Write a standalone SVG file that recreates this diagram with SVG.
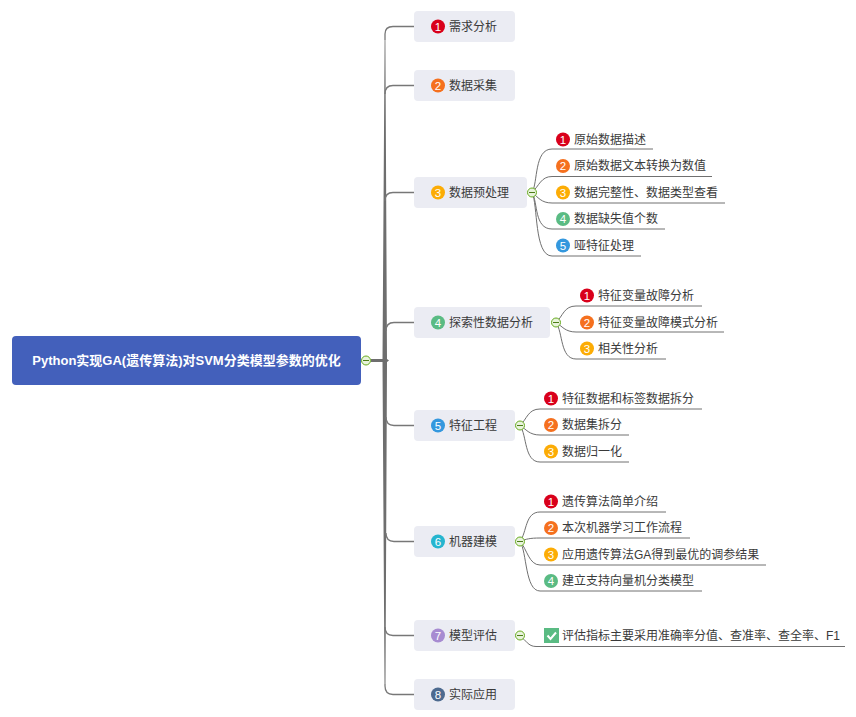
<svg xmlns="http://www.w3.org/2000/svg" width="856" height="717" viewBox="0 0 856 717">
<style>
text{font-family:"Liberation Sans","Noto Sans CJK SC",sans-serif;font-size:12px;fill:#3a3a3a}
.root{fill:#4360bb}
.rt{fill:#fff;font-size:13px;font-weight:700;text-anchor:middle}
.br{fill:#ebecf3}
.num{fill:#fff;font-size:11.500px;text-anchor:middle}
.c1{fill:#d9001b}.c2{fill:#f5701e}.c3{fill:#fcac05}.c4{fill:#5abb83}.c5{fill:#3498de}.c6{fill:#26b5cf}.c7{fill:#a78bd1}.c8{fill:#4d6a8f}
.taper{fill:#6e6e6e}
.trunk{fill:none;stroke:#777;stroke-width:1.300}
.ln{fill:none;stroke:#707070;stroke-width:1}
.tg{fill:#e8f3dc;stroke:#67ab1f;stroke-width:1}
.tm{stroke:#4d7d18;stroke-width:1}
</style>
<g id="connectors">
<path class="taper" d="M371 359H382.500L384.600 40H385.400L387 359L389 360.500L387 362L385.500 684H384.500L382.500 362H371Z"/>
<path class="trunk" d="M385 40V34Q385 26.500 393 26.500H414M385 94Q385 85.500 393 85.500H414M385 201Q385 192.500 393 192.500H414M386 331Q386 322.500 394 322.500H414M386 417Q386 425.500 394 425.500H414M386 533Q386 541.500 394 541.500H414M385 684V686Q385 694.500 393 694.500H414M385 627Q385 635.500 393 635.500H414"/>
<path class="ln" d="M532 192.500C538 183 534 149 552 149H653M532 192.500C539 186 541 176.500 552 176.500H712M532 192.500C538 197 541 203 552 203H725M532 192.500C538 202 534 229 552 229H665M532 192.500C538 204 534 256 552 256H641"/>
<path class="ln" d="M556 322.500C563 316 564 306 576 306H702M556 322.500C562 326 565 332 576 332H724M556 322.500C563 332 560 359 576 359H666"/>
<path class="ln" d="M520 425.500C527 419 528 409 540 409H702M520 425.500C526 429 529 435 540 435H629M520 425.500C527 435 524 462 540 462H629"/>
<path class="ln" d="M520 541.500C527 532 525 512 540 512H666M520 541.500C526 539 530 538 540 538H690M520 541.500C527 549 529 565 540 565H766M520 541.500C527 552 525 591 540 591H702"/>
<path class="ln" d="M520 636C526 640 528 646.500 536 646.500H845"/>
</g>
<g id="root"><rect class="root" x="12" y="336" width="349" height="49" rx="4"/><text class="rt" x="186.500" y="365">Python实现GA(遗传算法)对SVM分类模型参数的优化</text></g>
<g id="toggle-root"><circle class="tg" cx="366" cy="360.500" r="4.500"/><path class="tm" d="M363 360.500H369"/></g>

<g id="n1"><rect class="br" x="414" y="11" width="101" height="31" rx="4"/><circle class="c1" cx="438" cy="26.500" r="7"/><text class="num" x="438" y="30.500">1</text><text x="449" y="30.500">需求分析</text></g>
<g id="n2"><rect class="br" x="414" y="70" width="101" height="31" rx="4"/><circle class="c2" cx="438" cy="85.500" r="7"/><text class="num" x="438" y="89.500">2</text><text x="449" y="89.500">数据采集</text></g>
<g id="n3"><rect class="br" x="414" y="177" width="113" height="31" rx="4"/><circle class="c3" cx="438" cy="192.500" r="7"/><text class="num" x="438" y="196.500">3</text><text x="449" y="196.500">数据预处理</text></g>
<g id="n4"><rect class="br" x="414" y="307" width="136" height="31" rx="4"/><circle class="c4" cx="438" cy="322.500" r="7"/><text class="num" x="438" y="326.500">4</text><text x="449" y="326.500">探索性数据分析</text></g>
<g id="n5"><rect class="br" x="414" y="410" width="101" height="31" rx="4"/><circle class="c5" cx="438" cy="425.500" r="7"/><text class="num" x="438" y="429.500">5</text><text x="449" y="429.500">特征工程</text></g>
<g id="n6"><rect class="br" x="414" y="526" width="101" height="31" rx="4"/><circle class="c6" cx="438" cy="541.500" r="7"/><text class="num" x="438" y="545.500">6</text><text x="449" y="545.500">机器建模</text></g>
<g id="n7"><rect class="br" x="414" y="620" width="101" height="31" rx="4"/><circle class="c7" cx="438" cy="635.500" r="7"/><text class="num" x="438" y="639.500">7</text><text x="449" y="639.500">模型评估</text></g>
<g id="n8"><rect class="br" x="414" y="679" width="101" height="31" rx="4"/><circle class="c8" cx="438" cy="694.500" r="7"/><text class="num" x="438" y="698.500">8</text><text x="449" y="698.500">实际应用</text></g>

<g id="toggles">
<g><circle class="tg" cx="532" cy="192.500" r="4.500"/><path class="tm" d="M529 192.500H535"/></g>
<g><circle class="tg" cx="556" cy="322.500" r="4.500"/><path class="tm" d="M553 322.500H559"/></g>
<g><circle class="tg" cx="520" cy="425.500" r="4.500"/><path class="tm" d="M517 425.500H523"/></g>
<g><circle class="tg" cx="520" cy="541.500" r="4.500"/><path class="tm" d="M517 541.500H523"/></g>
<g><circle class="tg" cx="520" cy="635.500" r="4.500"/><path class="tm" d="M517 635.500H523"/></g>
</g>

<g id="n3-1"><circle class="c1" cx="563" cy="139.500" r="7"/><text class="num" x="563" y="143.500">1</text><text x="574" y="143.500">原始数据描述</text></g>
<g id="n3-2"><circle class="c2" cx="563" cy="166" r="7"/><text class="num" x="563" y="170">2</text><text x="574" y="170">原始数据文本转换为数值</text></g>
<g id="n3-3"><circle class="c3" cx="563" cy="192.500" r="7"/><text class="num" x="563" y="196.500">3</text><text x="574" y="196.500">数据完整性、数据类型查看</text></g>
<g id="n3-4"><circle class="c4" cx="563" cy="219" r="7"/><text class="num" x="563" y="223">4</text><text x="574" y="223">数据缺失值个数</text></g>
<g id="n3-5"><circle class="c5" cx="563" cy="245.500" r="7"/><text class="num" x="563" y="249.500">5</text><text x="574" y="249.500">哑特征处理</text></g>

<g id="n4-1"><circle class="c1" cx="587" cy="295.500" r="7"/><text class="num" x="587" y="299.500">1</text><text x="598" y="299.500">特征变量故障分析</text></g>
<g id="n4-2"><circle class="c2" cx="587" cy="322.500" r="7"/><text class="num" x="587" y="326.500">2</text><text x="598" y="326.500">特征变量故障模式分析</text></g>
<g id="n4-3"><circle class="c3" cx="587" cy="348.500" r="7"/><text class="num" x="587" y="352.500">3</text><text x="598" y="352.500">相关性分析</text></g>

<g id="n5-1"><circle class="c1" cx="551" cy="398.500" r="7"/><text class="num" x="551" y="402.500">1</text><text x="562" y="402.500">特征数据和标签数据拆分</text></g>
<g id="n5-2"><circle class="c2" cx="551" cy="425" r="7"/><text class="num" x="551" y="429">2</text><text x="562" y="429">数据集拆分</text></g>
<g id="n5-3"><circle class="c3" cx="551" cy="451.500" r="7"/><text class="num" x="551" y="455.500">3</text><text x="562" y="455.500">数据归一化</text></g>

<g id="n6-1"><circle class="c1" cx="551" cy="501.500" r="7"/><text class="num" x="551" y="505.500">1</text><text x="562" y="505.500">遗传算法简单介绍</text></g>
<g id="n6-2"><circle class="c2" cx="551" cy="528" r="7"/><text class="num" x="551" y="532">2</text><text x="562" y="532">本次机器学习工作流程</text></g>
<g id="n6-3"><circle class="c3" cx="551" cy="554.500" r="7"/><text class="num" x="551" y="558.500">3</text><text x="562" y="558.500">应用遗传算法GA得到最优的调参结果</text></g>
<g id="n6-4"><circle class="c4" cx="551" cy="581" r="7"/><text class="num" x="551" y="585">4</text><text x="562" y="585">建立支持向量机分类模型</text></g>

<g id="n7-1"><rect class="c4" x="544" y="628" width="15" height="15"/><path d="M547.500 635.500L550.500 639L556 632.500" fill="none" stroke="#fff" stroke-width="2"/><text x="562" y="640">评估指标主要采用准确率分值、查准率、查全率、F1</text></g>
</svg>
